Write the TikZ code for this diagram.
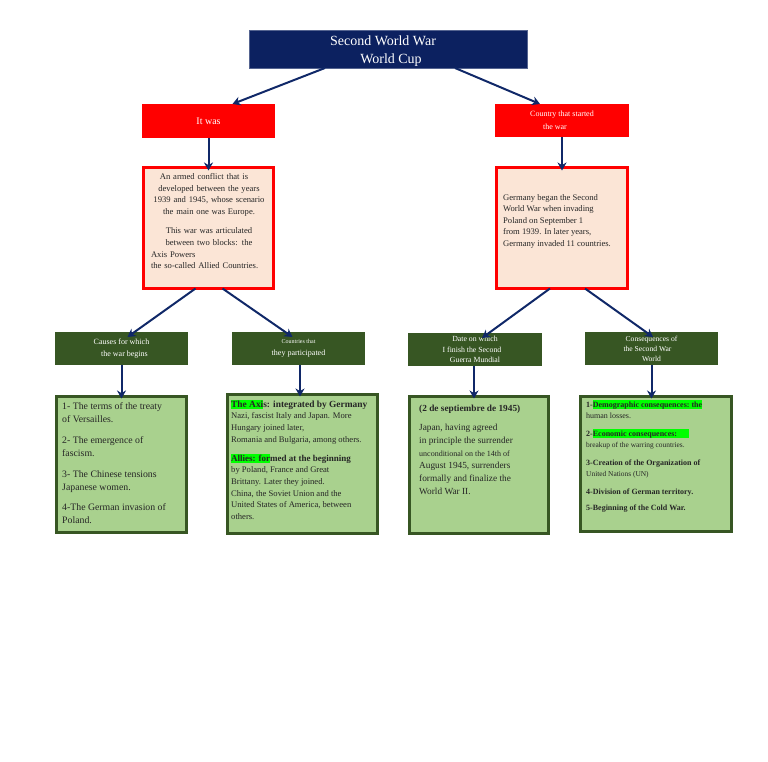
\documentclass[tikz,border=0pt]{standalone}
\usepackage{fontspec}
\setmainfont{Liberation Serif}
\usepackage{tikz}
\usetikzlibrary
  {
    arrows.meta,              % arrow heads
    calc,
  }

\definecolor{navy}{RGB}{12,33,96}
\definecolor{linkblue}{RGB}{16,40,104}
\definecolor{pinkfill}{RGB}{251,229,214}
\definecolor{darkgreen}{RGB}{55,86,35}
\definecolor{lightgreen}{RGB}{169,209,142}
\definecolor{hlgreen}{RGB}{0,255,0}

% green marker behind a piece of text
\newcommand{\hlg}[1]{{\setlength{\fboxsep}{0pt}\colorbox{hlgreen}{\rule[-2pt]{0pt}{9pt}#1}}}

\tikzset{
  box/.style={inner sep=0pt, outer sep=0pt},
  titlebox/.style={box, fill=navy, draw=navy!70},
  redbox/.style={box, fill=red, text=white},
  pinkbox/.style={box, fill=pinkfill, draw=red, line width=2.6pt},
  darkbox/.style={box, fill=darkgreen, text=white},
  greenbox/.style={box, fill=lightgreen, draw=darkgreen, line width=2.8pt},
  boxtext/.style={inner sep=0pt, anchor=north west, align=left, text=black!85},
  link/.style={draw=linkblue, line width=2pt, -{Stealth[length=8pt,width=9pt]}},
}

\begin{document}
\begin{tikzpicture}[x=1pt,y=-1pt]
  \useasboundingbox (0,0) rectangle (768,762);

  % top level
  \node [titlebox, minimum width=278pt, minimum height=38pt] (title) at (388,49) {};
  \node [align=center, text=white, inner sep=0pt,
    font=\fontsize{14}{18}\selectfont] (titletext) at (383,51)
    {Second World War\\\hspace*{16pt}World Cup};

  % second level
  \node [redbox, minimum width=133pt, minimum height=34pt,
    font=\fontsize{10}{12}\selectfont] (itwas) at (208.5,121) {It was};
  \node [redbox, minimum width=134pt, minimum height=33pt, align=center,
    font=\fontsize{8}{13}\selectfont] (started) at (562,120.5)
    {Country that started\\\hspace*{-14pt}the war};

  % third level
  \node [pinkbox, minimum width=130pt, minimum height=121pt] (armed) at (208.5,228) {};
  \node [boxtext, anchor=north, align=center, text width=124pt,
    font=\fontsize{8.6}{11.8}\selectfont] (armedtext) at (209,173)
    {\hspace*{-10pt}An armed conflict that is\\
     developed between the years\\
     1939 and 1945, whose scenario\\
     the main one was Europe.\\[7pt]
     This war was articulated\\
     between two blocks: the\\
     \makebox[124pt][l]{\hspace*{4pt}Axis Powers}\\
     \makebox[124pt][l]{\hspace*{4pt}the so-called Allied Countries.}};

  \node [pinkbox, minimum width=131pt, minimum height=121pt] (germany) at (562,228) {};
  \node [boxtext, font=\fontsize{8.6}{11.6}\selectfont] (germanytext) at (503,194)
    {Germany began the Second\\
     World War when invading\\
     Poland on September 1\\
     from 1939. In later years,\\
     Germany invaded 11 countries.};

  % fourth level
  \node [darkbox, minimum width=133pt, minimum height=33pt, align=center,
    font=\fontsize{8}{12}\selectfont] (causes) at (121.5,348.5)
    {Causes for which\\\hspace*{6pt}the war begins};
  \node [darkbox, minimum width=133pt, minimum height=33pt, align=center,
    font=\fontsize{8}{12}\selectfont] (countries) at (298.5,348.5)
    {{\fontsize{6}{8}\selectfont Countries that}\\they participated};
  \node [darkbox, minimum width=134pt, minimum height=33pt, align=center,
    font=\fontsize{7.8}{10.8}\selectfont] (date) at (475,349.5)
    {Date on which\\\hspace*{-6pt}I finish the Second\\Guerra Mundial};
  \node [darkbox, minimum width=133pt, minimum height=33pt, align=center,
    font=\fontsize{7.6}{10}\selectfont] (conseq) at (651.5,348.5)
    {Consequences of\\\hspace*{-8pt}the Second War\\World};

  % fifth level
  \node [greenbox, minimum width=130pt, minimum height=136pt] (terms) at (121.5,464.5) {};
  \node [boxtext, font=\fontsize{9.8}{13}\selectfont] (termstext) at (62,402)
    {1- The terms of the treaty\\
     of Versailles.\\[8pt]
     2- The emergence of\\
     fascism.\\[8pt]
     3- The Chinese tensions\\
     Japanese women.\\[7pt]
     4-The German invasion of\\
     Poland.};

  \node [greenbox, minimum width=150pt, minimum height=139pt] (axis) at (302.5,464) {};
  \node [boxtext, font=\fontsize{8.6}{11.7}\selectfont] (axistext) at (231,400)
    {{\fontsize{9.4}{11.7}\selectfont\bfseries \hlg{The Axi}s: integrated by Germany}\\
     Nazi, fascist Italy and Japan. More\\
     Hungary joined later,\\
     Romania and Bulgaria, among others.\\[7pt]
     {\fontsize{9}{11.7}\selectfont\bfseries \hlg{Allies: for}med at the beginning}\\
     by Poland, France and Great\\
     Brittany. Later they joined.\\
     China, the Soviet Union and the\\
     United States of America, between\\
     others.};

  \node [greenbox, minimum width=139pt, minimum height=137pt] (japan) at (479,465) {};
  \node [boxtext, font=\fontsize{9.3}{12.8}\selectfont] (japantext) at (419,405)
    {{\bfseries (2 de septiembre de 1945)}\\[6pt]
     Japan, having agreed\\
     in principle the surrender\\
     {\fontsize{8}{12.8}\selectfont unconditional on the 14th of}\\
     August 1945, surrenders\\
     formally and finalize the\\
     World War II.};

  \node [greenbox, minimum width=151pt, minimum height=135pt] (demog) at (656,464) {};
  \node [boxtext, font=\fontsize{8}{11.5}\selectfont] (demogtext) at (586,400)
    {{\bfseries 1-\hlg{Demographic consequences:\ the}}\\
     human losses.\\[6pt]
     {\bfseries 2-\hlg{Economic consequences:\hspace{12pt}}}\\
     {\fontsize{7.4}{10}\selectfont breakup of the warring countries.}\\[6pt]
     {\bfseries 3-Creation of the Organization of}\\
     {\fontsize{7.4}{11}\selectfont United Nations (UN)}\\[6pt]
     {\bfseries 4-Division of German territory.}\\[5pt]
     {\bfseries 5-Beginning of the Cold War.}};

  % connectors
  \draw [link] ([xshift=-63pt]title.south) -- ([xshift=24pt]itwas.north);
  \draw [link] ([xshift=67pt]title.south) -- ([xshift=-22pt]started.north);
  \draw [link] (itwas.south) -- ([yshift=-3pt]armed.north);
  \draw [link] (started.south) -- ([yshift=-3pt]germany.north);

  \draw [link] ([xshift=-13pt]armed.south) -- ([xshift=6pt,yshift=-5pt]causes.north);
  \draw [link] ([xshift=14pt]armed.south) -- ([xshift=-6pt,yshift=-5pt]countries.north);
  \draw [link] ([xshift=-12pt]germany.south) -- ([xshift=7pt,yshift=-5pt]date.north);
  \draw [link] ([xshift=23pt]germany.south) -- ([xshift=1.5pt,yshift=-5pt]conseq.north);

  \draw [link] (causes.south) -- ([yshift=-2pt]terms.north);
  \draw [link] ([xshift=1.5pt]countries.south) coordinate (cs)
    -- ([yshift=-2pt]cs |- axis.north);
  \draw [link] ([xshift=-1pt]date.south) coordinate (ds)
    -- ([yshift=-2pt]ds |- japan.north);
  \draw [link] (conseq.south) -- ([yshift=-2pt]conseq.south |- demog.north);
\end{tikzpicture}
\end{document}
